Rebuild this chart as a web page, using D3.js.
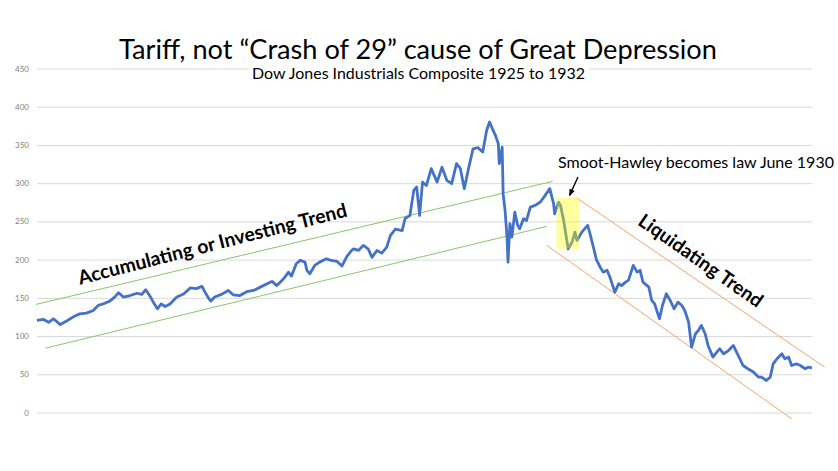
<!DOCTYPE html>
<html><head><meta charset="utf-8">
<script src="https://cdn.jsdelivr.net/npm/d3@7"></script>
<style>body{margin:0;background:#fff;} svg{display:block;font-family:Lato,"Open Sans",sans-serif;}</style>
</head><body>
<svg id="chart" width="838" height="471"></svg>
<script>
// Dow Jones Industrial Average (decimal year, close)
const years = [
1925.02,1925.09,1925.14,1925.19,1925.26,1925.33,1925.39,1925.46,1925.53,1925.60,1925.65,1925.70,1925.77,1925.82,1925.86,1925.91,1925.98,
1926.05,1926.10,1926.14,1926.18,1926.22,1926.26,1926.30,1926.34,1926.39,1926.46,1926.53,1926.60,1926.66,1926.72,1926.75,1926.78,1926.81,1926.85,1926.92,1926.99,
1927.04,1927.11,1927.18,1927.25,1927.32,1927.39,1927.44,1927.49,1927.56,1927.61,1927.64,1927.69,1927.73,1927.78,1927.80,1927.83,1927.88,1927.93,
1928.00,1928.05,1928.11,1928.16,1928.21,1928.26,1928.28,1928.33,1928.38,1928.43,1928.47,1928.52,1928.57,1928.62,1928.66,1928.71,1928.78,1928.81,1928.86,1928.90,1928.93,1928.96,1928.99,
1929.03,1929.08,1929.14,1929.19,1929.24,1929.29,1929.34,1929.38,1929.42,1929.46,1929.51,1929.56,1929.61,1929.65,1929.68,1929.71,1929.74,1929.77,1929.78,1929.81,1929.82,1929.84,1929.86,1929.87,1929.89,1929.91,1929.94,1929.97,1929.99,
1930.03,1930.06,1930.10,1930.15,1930.20,1930.24,1930.30,1930.34,1930.35,1930.39,1930.41,1930.44,1930.47,1930.49,1930.53,1930.56,1930.58,1930.63,1930.69,1930.71,1930.75,1930.78,1930.82,1930.85,1930.89,1930.92,1930.97,
1931.01,1931.04,1931.08,1931.11,1931.16,1931.20,1931.23,1931.26,1931.32,1931.35,1931.38,1931.43,1931.46,1931.50,1931.54,1931.58,1931.62,1931.66,1931.69,1931.73,1931.76,1931.80,1931.83,1931.86,1931.90,1931.93,1931.98,
1932.02,1932.05,1932.09,1932.14,1932.19,1932.24,1932.29,1932.34,1932.40,1932.45,1932.48,1932.53,1932.57,1932.60,1932.64,1932.69,1932.72,1932.76,1932.79,1932.84,1932.88,1932.93,1932.96,1933.00
];
const closes = [
120.4,121.7,118,122.6,115,120,124.8,129,130,133.5,140,142,145.7,151,156.6,151,153,
156,154.5,160.6,153,144,135.7,142,138.7,142,151,155,163,162,165,157.5,151,145.7,151,154.5,159.7,
154,153,158,159.7,164,168.5,171.5,166,175,183.6,178.4,194.6,199,196.7,186,181.5,192.4,196.7,
201,199,197.6,191.5,204,212,214,212,218.6,214,203,212,208.5,216,231.7,240,238,253.5,257.8,290.6,295,257.8,301.4,
297,319,301.4,321,303.7,299.3,325.5,319,292.8,316.8,345,346.5,340.7,369,380,371,362.6,351.7,325.5,347,286,264,229.5,196.7,247,229.5,262,244.8,240.4,
253.5,251,268.7,271,275,281.8,292.8,273,260,275,271,253.5,229.5,214,223,236,225,236,244.8,236,216,200,190,183.6,186,177,157.5,
168.5,166,170.5,172.8,192.4,183.6,186,170.5,164,146.6,142,122.6,140,155.4,146.6,135.7,144.4,140,133.5,118,85.5,103,107.3,113.9,103,87.7,72.4,
79,83.4,76.8,81,87.7,74.6,61.5,57.2,52.7,46.2,46.2,41.9,46.2,63.7,70.3,76.8,70.3,72.4,61.5,63.7,61.5,57.2,59.3,58.5
];
const yTicks = [0,50,100,150,200,250,300,350,400,450];

// Trend channels [year, value]
const accumUpper = [[1925.01,141.4],[1930.33,302.4]];
const accumLower = [[1925.11,84.2],[1930.27,243.5]];
const liquUpper  = [[1930.58,280.5],[1933.13,59.3]];
const liquLower  = [[1930.27,218.6],[1932.79,-8.2]];
// Highlight period June 1930
const highlightYears = [1930.37,1930.60];
const highlightValues = [214.3,280.8];

const titleText = "Tariff, not \u201CCrash of 29\u201D cause of Great Depression";
const subtitleText = "Dow Jones Industrials Composite 1925 to 1932";
const noteText = "Smoot-Hawley becomes law June 1930";
const accumText = "Accumulating or Investing Trend";
const liquText = "Liquidating Trend";

const svg = d3.select("#chart");
const x = d3.scaleLinear().domain([1925,1933]).range([35,812]);
const y = d3.scaleLinear().domain([0,450]).range([412.5,68.5]);

// gridlines + labels
const yAxis = d3.axisLeft(y).tickValues(yTicks).tickSize(-(812-37)).tickPadding(8);
const ga = svg.append("g").attr("transform","translate(37,0)").call(yAxis);
ga.select(".domain").remove();
ga.selectAll(".tick line").attr("stroke","#d9d9d9").attr("stroke-width",1);
ga.selectAll(".tick text").attr("fill","#7f7f7f").attr("font-size",8).attr("font-family","Lato, sans-serif");

function fit(sel, w){
  const fs = parseFloat(sel.attr("font-size"));
  const l = sel.node().getComputedTextLength();
  sel.attr("font-size", fs*w/l);
}

// title
const t1 = svg.append("text").attr("x",418).attr("y",58.5).attr("text-anchor","middle")
  .attr("font-size",30).attr("fill","#000").text(titleText);
fit(t1,598);
const subBg = svg.append("rect").attr("fill","#fff");
const t2 = svg.append("text").attr("x",418.5).attr("y",79).attr("text-anchor","middle")
  .attr("font-size",15).attr("fill","#000").text(subtitleText);
fit(t2,333);
const bb = t2.node().getBBox();
subBg.attr("x",bb.x-4).attr("y",bb.y+2).attr("width",bb.width+8).attr("height",bb.height-2);

// trend lines
const seg = d3.line().x(d=>x(d[0])).y(d=>y(d[1]));
svg.append("path").attr("d",seg(accumUpper)).attr("stroke","#8cc56a").attr("stroke-width",1).attr("fill","none");
svg.append("path").attr("d",seg(accumLower)).attr("stroke","#8cc56a").attr("stroke-width",1).attr("fill","none");
svg.append("path").attr("d",seg(liquUpper)).attr("stroke","#f4a46e").attr("stroke-width",1).attr("fill","none");
svg.append("path").attr("d",seg(liquLower)).attr("stroke","#f4a46e").attr("stroke-width",1).attr("fill","none");

// data line
const data = years.map((yr,i)=>[yr,closes[i]]);
svg.append("path").attr("d",seg(data)).attr("stroke","#4472c4").attr("stroke-width",2.8)
  .attr("fill","none").attr("stroke-linejoin","round");

// highlight
svg.append("rect").attr("x",x(highlightYears[0])).attr("y",y(highlightValues[1]))
  .attr("width",x(highlightYears[1])-x(highlightYears[0])).attr("height",y(highlightValues[0])-y(highlightValues[1]))
  .attr("fill","#ffff00").attr("opacity",0.38);

// arrow
const defs = svg.append("defs");
defs.append("marker").attr("id","ah").attr("viewBox","0 0 10 10").attr("refX",9).attr("refY",5)
  .attr("markerWidth",5).attr("markerHeight",5).attr("orient","auto")
  .append("path").attr("d","M0,1 L10,5 L0,9 z").attr("fill","#000");
svg.append("line").attr("x1",578).attr("y1",177).attr("x2",569.5).attr("y2",195.5)
  .attr("stroke","#000").attr("stroke-width",1.4).attr("marker-end","url(#ah)");

// annotation
const n1 = svg.append("text").attr("x",558).attr("y",168).attr("font-size",15).attr("fill","#000").text(noteText);
fit(n1,276);

// rotated labels
const a1 = svg.append("text").attr("text-anchor","middle").attr("font-weight","bold").attr("font-size",20)
  .attr("fill","#000").attr("transform","translate(214,250.5) rotate(-14.3)").text(accumText);
fit(a1,277);
const a2 = svg.append("text").attr("text-anchor","middle").attr("font-weight","bold").attr("font-size",19)
  .attr("fill","#000").attr("transform","translate(697,266) rotate(35)").text(liquText);
fit(a2,147);
</script>
</body></html>
